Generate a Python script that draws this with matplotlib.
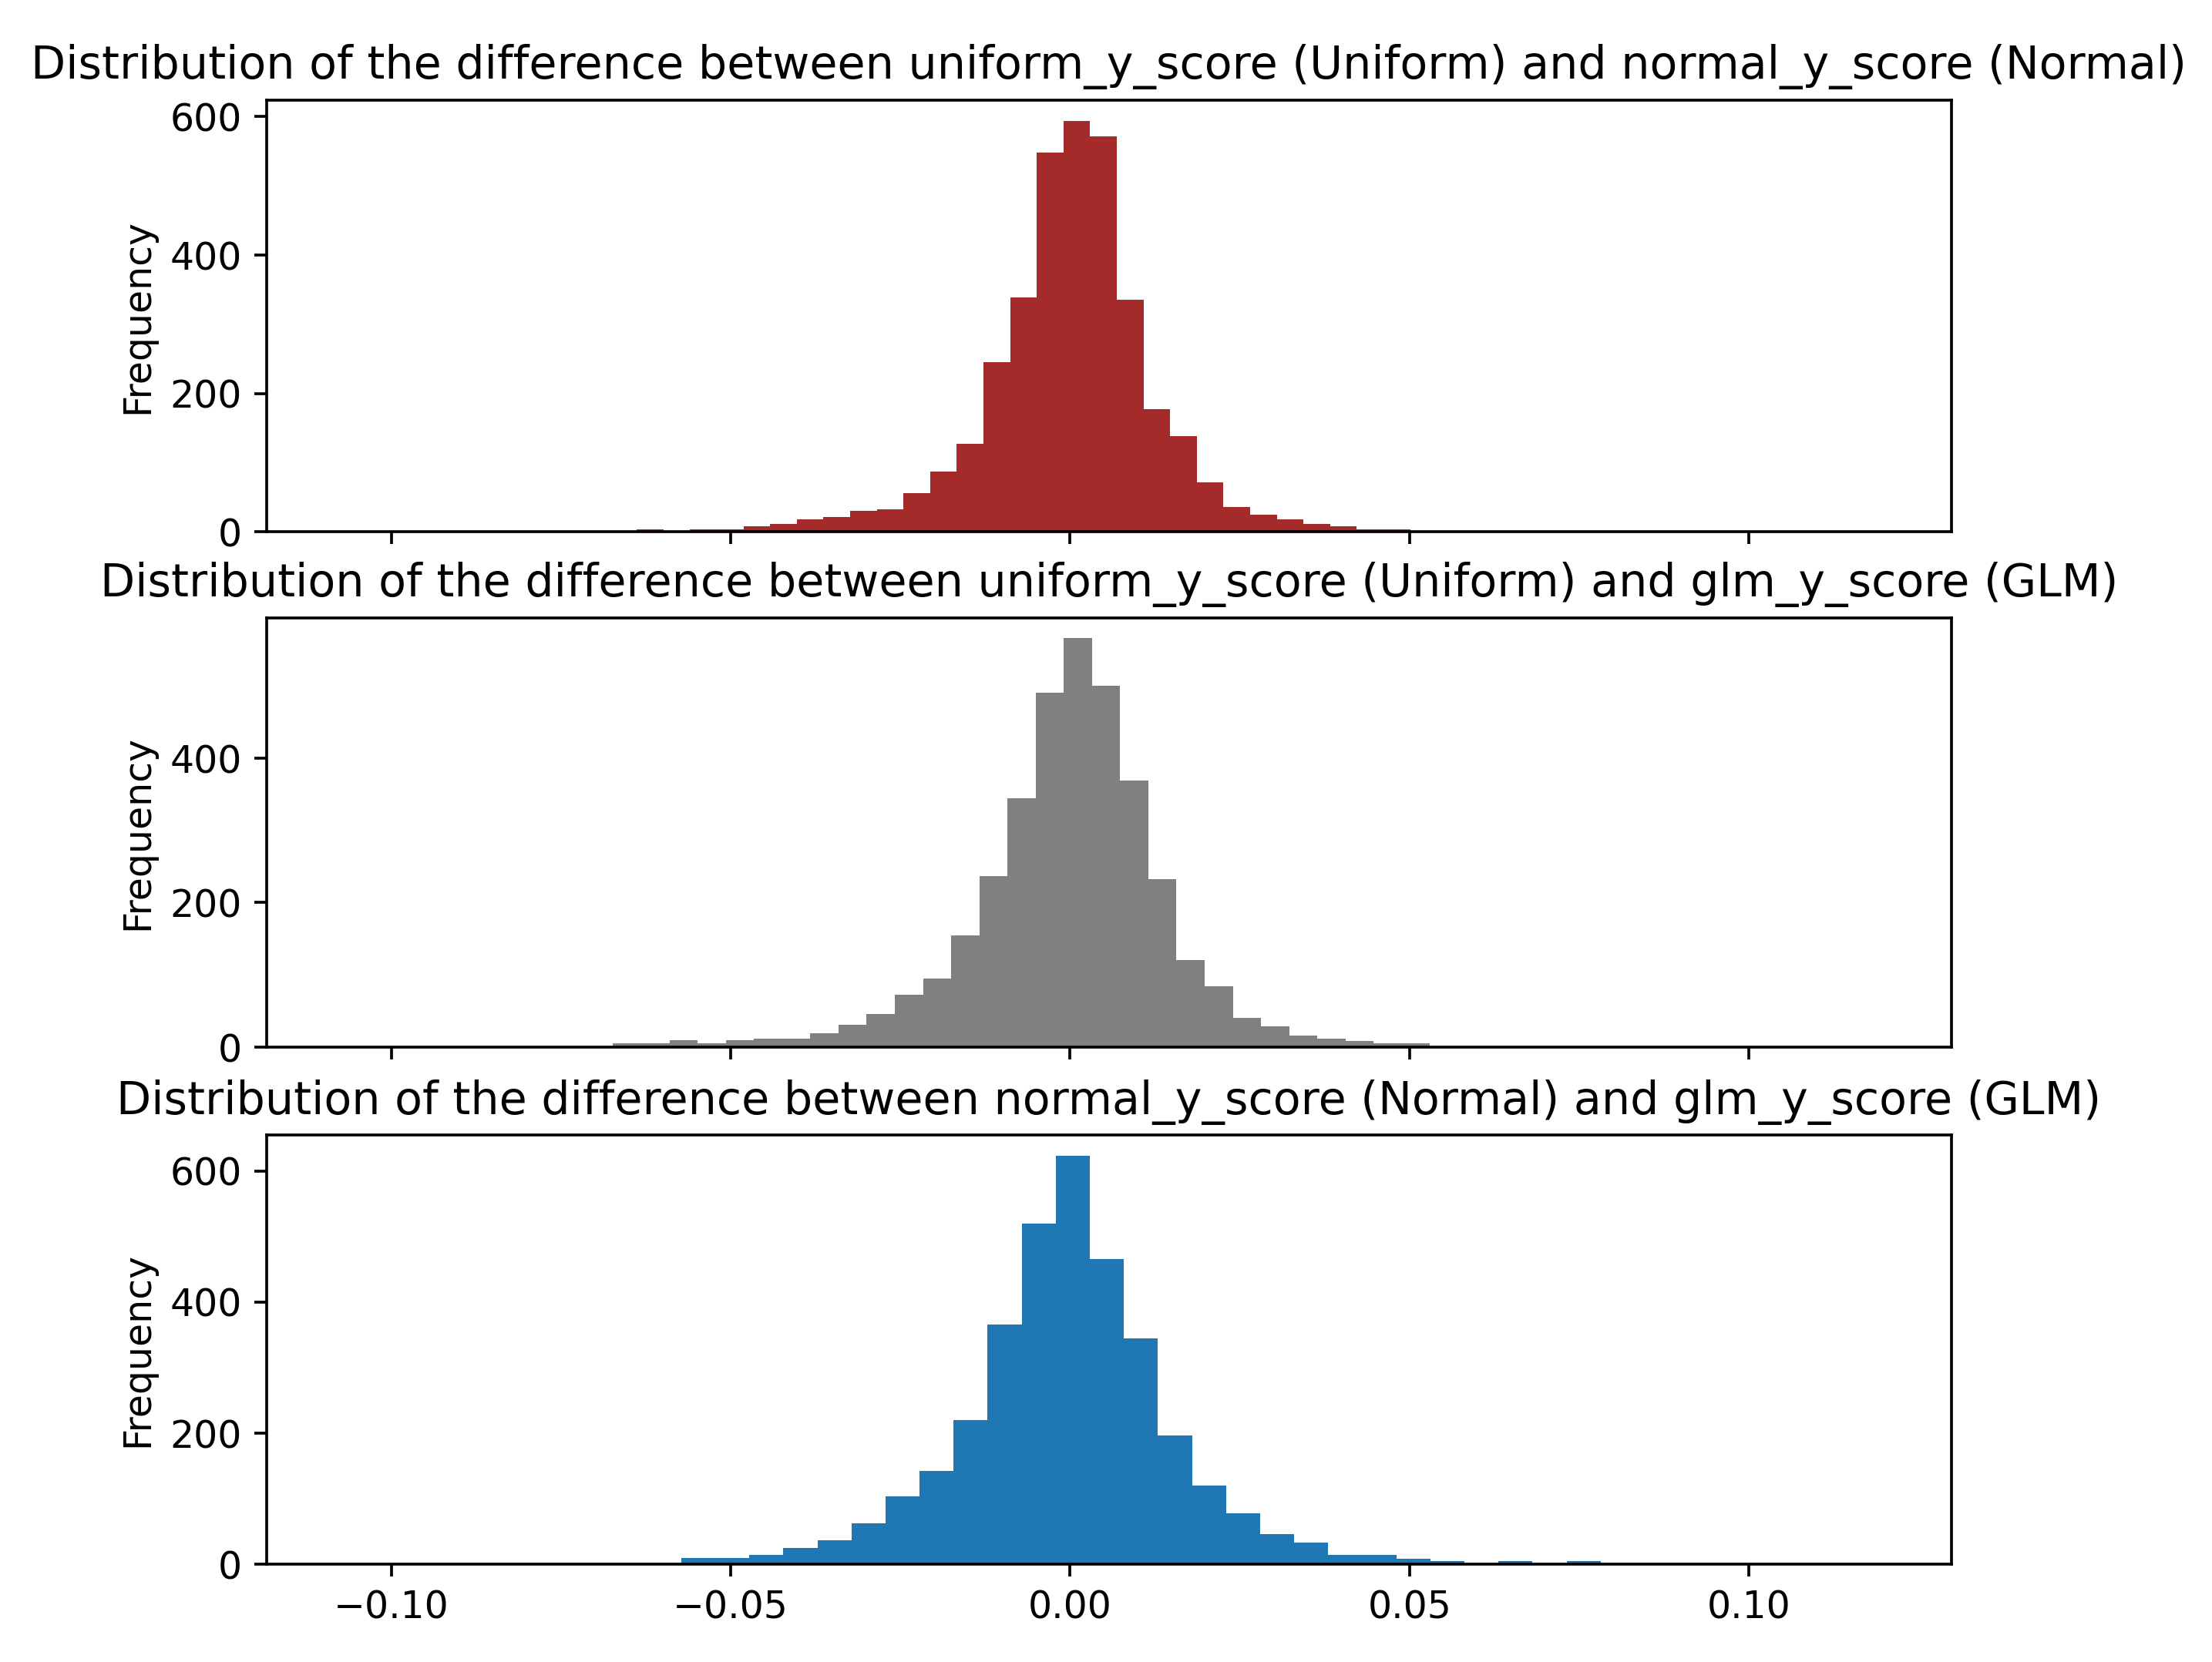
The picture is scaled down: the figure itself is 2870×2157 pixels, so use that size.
import numpy as np
import matplotlib
matplotlib.use('Agg')
import matplotlib.pyplot as plt

# --- datos (conteos por bin) ---
# uniform - normal
start_1 = -0.06384
width_1 = 0.003929
counts_1 = [4, 0, 4, 4, 8, 12, 18, 21, 30, 33, 56, 87, 127, 245, 339,
            548, 594, 571, 335, 177, 138, 72, 36, 25, 18, 12, 8, 4, 4]

# uniform - glm (con colas de 1 en todo el rango)
start_2 = -0.10882
width_2 = 0.00415
counts_2 = [1, 1, 1, 1, 1, 1, 1, 1, 1, 1,
            5, 5, 9, 5, 9, 12, 12, 19, 31, 46, 72, 95, 155, 237, 345,
            491, 566, 500, 369, 233, 120, 84, 40, 29, 16, 12, 8, 5, 5,
            1, 1, 1, 1, 1, 1, 1, 1, 1, 1, 1, 1, 1, 1, 1, 1]

# normal - glm
start_3 = -0.05729
width_3 = 0.005017
counts_3 = [9, 9, 14, 25, 37, 62, 104, 142, 220, 365, 519, 623, 465, 344,
            196, 120, 78, 46, 33, 14, 14, 8, 5, 0, 5, 0, 5]

titles = ['Distribution of the difference between uniform_y_score (Uniform) and normal_y_score (Normal)',
          'Distribution of the difference between uniform_y_score (Uniform) and glm_y_score (GLM)',
          'Distribution of the difference between normal_y_score (Normal) and glm_y_score (GLM)']
colores = ['brown', 'grey', '#1f77b4']

x_lim = (-0.11835, 0.1298)
x_ticks = [-0.10, -0.05, 0.00, 0.05, 0.10]
y_ticks = [0, 200, 400, 600]

plt.rcParams['font.size'] = 10.65

W, H = 2870, 2157
dpi = 331
fig = plt.figure(figsize=((W + 0.2) / dpi, (H + 0.2) / dpi), dpi=dpi)

# posiciones de los ejes en pixeles (top, bottom)
left = 346 / W
ancho = 2185.4 / W
filas = [(130, 690.5), (802, 1359), (1473.5, 2030)]

datos = [(start_1, width_1, counts_1),
         (start_2, width_2, counts_2),
         (start_3, width_3, counts_3)]

axes = []
for i, (top, bot) in enumerate(filas):
    if i == 0:
        ax = fig.add_axes([left, 1 - bot / H, ancho, (bot - top) / H])
    else:
        ax = fig.add_axes([left, 1 - bot / H, ancho, (bot - top) / H], sharex=axes[0])
    axes.append(ax)

    start, w, cnt = datos[i]
    cnt = np.array(cnt, dtype=float)
    bordes = start + w * np.arange(len(cnt) + 1)
    centros = 0.5 * (bordes[:-1] + bordes[1:])
    ax.hist(centros, bins=bordes, weights=cnt, color=colores[i])

    ax.set_title(titles[i])
    ax.set_ylabel('Frequency')
    ax.set_xlim(x_lim)
    ax.set_xticks(x_ticks)
    ymax = ax.get_ylim()[1]
    ax.set_yticks([t for t in y_ticks if t <= ymax])
    ax.set_ylim(0, ymax)
    if i < 2:
        ax.tick_params(labelbottom=False)

fig.savefig('out.png', dpi=dpi)
